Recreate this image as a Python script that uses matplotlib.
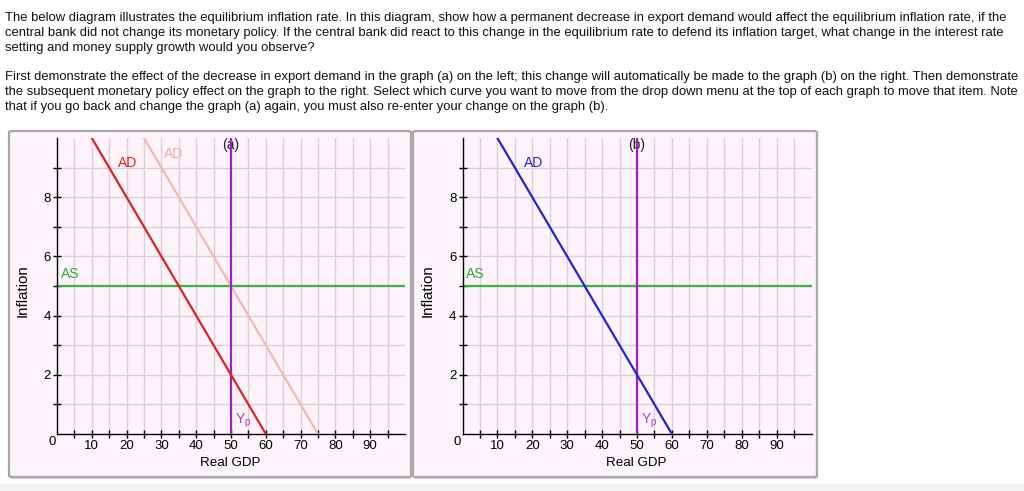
import numpy as np
import matplotlib
matplotlib.use("Agg")
import matplotlib.pyplot as plt
from matplotlib.patches import FancyBboxPatch, Rectangle

plt.rcParams.update({
    "font.family": ["Liberation Sans", "DejaVu Sans"],
    "font.size": 9,
})

W, H = 1024, 491

# question text
PARAGRAPH_1 = [
    "The below diagram illustrates the equilibrium inflation rate. In this diagram, show how a permanent decrease in export demand would affect the equilibrium inflation rate, if the",
    "central bank did not change its monetary policy. If the central bank did react to this change in the equilibrium rate to defend its inflation target, what change in the interest rate",
    "setting and money supply growth would you observe?",
]
PARAGRAPH_2 = [
    "First demonstrate the effect of the decrease in export demand in the graph (a) on the left; this change will automatically be made to the graph (b) on the right. Then demonstrate",
    "the subsequent monetary policy effect on the graph to the right. Select which curve you want to move from the drop down menu at the top of each graph to move that item. Note",
    "that if you go back and change the graph (a) again, you must also re-enter your change on the graph (b).",
]

# axis ticks
x_ticks = [5, 10, 15, 20, 25, 30, 35, 40, 45, 50, 55, 60, 65, 70, 75, 80, 85, 90, 95]
x_labels = ["", "10", "", "20", "", "30", "", "40", "", "50", "", "60", "", "70", "", "80", "", "90", ""]
y_ticks = [1, 2, 3, 4, 5, 6, 7, 8, 9]
y_labels = ["", "2", "", "4", "", "6", "", "8", ""]

# curves (end points)
ad_new_x = [10, 60]
ad_new_y = [10, 0]
ad_old_x = [25, 75]
ad_old_y = [10, 0]
ad_b_x = [10, 60]
ad_b_y = [10, 0]
as_level = 5
yp_level = 50

fig = plt.figure(figsize=(W / 100, H / 100), dpi=100)
fig.patch.set_facecolor("white")


def px(x, y):
    return x / W, 1 - y / H


# text block
for i, line in enumerate(PARAGRAPH_1):
    fig.text(*px(5, 18 + 15 * i), line, fontsize=9.35, va="center", ha="left", color="#111111")
for i, line in enumerate(PARAGRAPH_2):
    fig.text(*px(5, 77 + 15 * i), line, fontsize=9.35, va="center", ha="left", color="#111111")

# light band under panels
fig.patches.append(Rectangle((0, 0), 1, 7 / H, transform=fig.transFigure,
                             facecolor="#f3f3f3", edgecolor="none", zorder=-3))

# panel frames
for x0, x1 in [(9, 411), (413, 817)]:
    fx0, fy1 = px(x0, 131)
    fx1, fy0 = px(x1, 477)
    shadow = FancyBboxPatch((fx0 + 1 / W, fy0 - 2 / H), fx1 - fx0, fy1 - fy0,
                            boxstyle="round,pad=0,rounding_size=0.003",
                            transform=fig.transFigure, facecolor="#d6d6d6",
                            edgecolor="none", zorder=-2)
    box = FancyBboxPatch((fx0, fy0), fx1 - fx0, fy1 - fy0,
                         boxstyle="round,pad=0,rounding_size=0.003",
                         transform=fig.transFigure, facecolor="#fdf3fb",
                         edgecolor="#a9a9a9", linewidth=1.6, zorder=-1)
    fig.patches.append(shadow)
    fig.patches.append(box)


def setup_axes(ax, title):
    ax.set_xlim(0, 100)
    ax.set_ylim(0, 10)
    ax.patch.set_alpha(0)
    for s in ["top", "right"]:
        ax.spines[s].set_visible(False)
    ax.spines["left"].set_linewidth(1.0)
    ax.spines["bottom"].set_linewidth(1.0)
    ax.set_xticks(x_ticks)
    ax.set_xticklabels(x_labels, fontsize=9.5)
    ax.set_yticks(y_ticks)
    ax.set_yticklabels(y_labels, fontsize=9.5)
    ax.tick_params(axis="x", direction="inout", length=5.8, width=1, pad=1.5)
    ax.tick_params(axis="y", direction="inout", length=5.8, width=1, pad=1.5)
    for g in x_ticks:
        ax.axvline(g, color="#d9d0d9", linewidth=1.0, zorder=0)
    for g in y_ticks:
        ax.axhline(g, color="#d9d0d9", linewidth=1.0, zorder=0)
    ax.text(-1.5, -0.27, "0", fontsize=9.5, ha="center", va="center", clip_on=False)
    ax.set_xlabel("Real GDP", fontsize=9.6)
    ax.xaxis.set_label_coords(0.497, -0.077)
    ax.set_ylabel("Inflation", fontsize=10.8)
    ax.yaxis.set_label_coords(-0.080, 0.486)
    ax.text(50, 9.78, title, fontsize=10, ha="center", va="center", color="#222222", zorder=1)
    ax.axhline(as_level, color="#3cb43c", linewidth=1.6, zorder=2)
    ax.text(1.0, as_level + 0.42, "AS", color="#2faa2f", fontsize=10, ha="left", va="center")
    ax.axvline(yp_level, color="#a51fc0", linewidth=1.6, zorder=3)
    ax.text(51.2, 0.45, r"Y$_\mathregular{p}$", color="#b040c8", fontsize=10, ha="left", va="center")


ax_a = fig.add_axes([57 / W, 57 / H, 348 / W, 296 / H])
setup_axes(ax_a, "(a)")
ax_a.plot(ad_old_x, ad_old_y, color="#f5b7b0", linewidth=1.6, zorder=2)
ax_a.text(33.4, 9.45, "AD", color="#f3aaa5", fontsize=10, ha="center", va="center")
ax_a.plot(ad_new_x, ad_new_y, color="#e0221e", linewidth=1.6, zorder=4)
ax_a.text(20.3, 9.15, "AD", color="#e0221e", fontsize=10, ha="center", va="center")

ax_b = fig.add_axes([462.5 / W, 57 / H, 349 / W, 296 / H])
setup_axes(ax_b, "(b)")
ax_b.plot(ad_b_x, ad_b_y, color="#2424d0", linewidth=1.6, zorder=4)
ax_b.text(20.3, 9.15, "AD", color="#2424d0", fontsize=10, ha="center", va="center")

fig.savefig("out.png", dpi=100)
